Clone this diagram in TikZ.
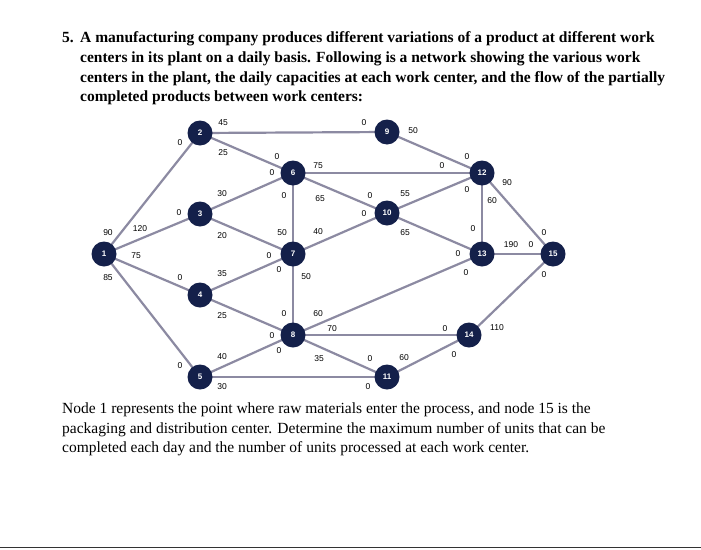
\documentclass[tikz,border=0pt]{standalone}
\usepackage{fontspec}
\setmainfont{Liberation Serif}
\newfontfamily\lsans{Liberation Sans}
\begin{document}
\begin{tikzpicture}[x=1pt,y=-1pt,
  wc/.style={circle,fill=nodeblue,text=white,inner sep=0pt,minimum size=25pt,font=\lsans\bfseries\fontsize{8}{9}\selectfont},
  arcline/.style={draw=edgegrey,line width=2.2pt},
  caplabel/.style={font=\lsans\fontsize{8.5}{10}\selectfont,inner sep=0pt},
  para/.style={anchor=base west,inner sep=0pt,font=\fontsize{15.5}{19}\selectfont}]
\definecolor{nodeblue}{HTML}{14204A}
\definecolor{edgegrey}{HTML}{8C8AA2}
\useasboundingbox (0,0) rectangle (701,549);
\fill[white] (0,0) rectangle (701,549);
% question text
\node[para,font=\bfseries\fontsize{15.5}{19}\selectfont] (qn) at (62,42) {5.};
\node[para,font=\bfseries\fontsize{15.5}{19}\selectfont] (q1) at (80,42) {A manufacturing company produces different variations of a product at different work};
\node[para,font=\bfseries\fontsize{15.5}{19}\selectfont] (q2) at (80,62) {centers in its plant on a daily basis. Following is a network showing the various work};
\node[para,font=\bfseries\fontsize{15.5}{19}\selectfont] (q3) at (80,82) {centers in the plant, the daily capacities at each work center, and the flow of the partially};
\node[para,font=\bfseries\fontsize{15.5}{19}\selectfont] (q4) at (80,101) {completed products between work centers:};
\node[para] (b1) at (62,413) {Node 1 represents the point where raw materials enter the process, and node 15 is the};
\node[para] (b2) at (62,433) {packaging and distribution center. Determine the maximum number of units that can be};
\node[para] (b3) at (62,452) {completed each day and the number of units processed at each work center.};
\draw[line width=1.5pt,black!80] (0,547.5) -- (701,547.5);
% nodes
\foreach \n/\x/\y in {1/104/254,2/200/133,3/200/214,4/200/295,5/200/377,6/293/173,7/293/254,8/293/335,9/387/132,10/387/213,11/387/377,12/482/173,13/482/254,14/469/335,15/553/254}
  \coordinate (p\n) at (\x,\y);
\foreach \a/\b in {1/2,1/3,1/4,1/5,2/9,2/6,3/6,3/7,4/7,4/8,5/8,5/11,6/7,6/12,6/10,7/10,7/8,8/13,8/14,8/11,9/12,10/12,10/13,12/13,12/15,13/15,14/15,11/14}
  \draw[arcline] (p\a) -- (p\b);
\foreach \n in {1,...,15}
  \node[wc] (n\n) at (p\n) {\n};
% capacity labels
\foreach \t/\x/\y [count=\i] in {45/223/123,0/180/143,25/223/153,0/277/157,0/272/173,75/318/166,0/284/196,65/320/199,
  30/222/194,0/179/213,120/140/229,90/108/233,20/222/236,50/282/233,40/318/232,0/269/256,75/136/256,85/108/278,
  0/180/278,35/222/274,0/279/270,50/306/277,25/222/316,0/284/314,60/318/314,70/332/329,0/272/336,0/279/351,
  40/222/357,35/319/359,0/180/366,30/222/387,0/364/123,50/413/131,0/467/157,0/442/166,90/507/183,0/467/190,
  60/492/201,0/370/196,55/405/194,0/364/214,65/405/233,0/473/229,190/511/245,0/531/245,0/544/233,0/458/254,
  0/466/273,0/544/275,0/445/329,110/497/328,0/454/355,0/370/359,60/404/358,0/368/387}
  \node[caplabel] (c\i) at (\x,\y) {\t};
\end{tikzpicture}
\end{document}
